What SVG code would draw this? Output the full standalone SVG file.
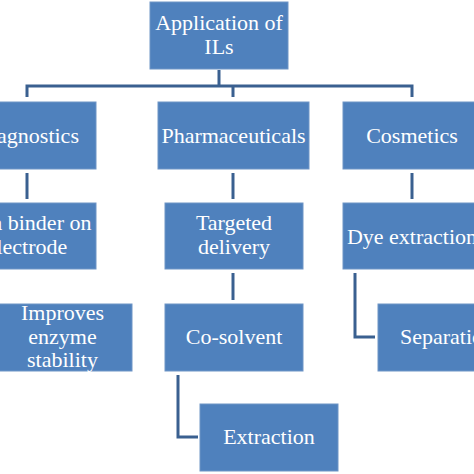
<svg xmlns="http://www.w3.org/2000/svg" width="474" height="474" viewBox="0 0 474 474">
<style>
.box{fill:#4f81bd;stroke:#6f95c6;stroke-width:1}
.t{font-family:'Liberation Serif','Times New Roman','DejaVu Serif',serif;font-size:22px;fill:#ffffff;text-anchor:middle}
.c{fill:none;stroke:#3a6090;stroke-width:3}
</style>
<rect width="474" height="474" fill="#ffffff"/>
<g id="connectors">
<path class="c" d="M219 70V86M27 97V86H412V97M233 86V97"/>
<path class="c" d="M27 173V199"/>
<path class="c" d="M233 173V199"/>
<path class="c" d="M412 173V199"/>
<path class="c" d="M233 273V300"/>
<path class="c" d="M178 375V437H198"/>
<path class="c" d="M355 273V337H375"/>
</g>
<g id="root">
<rect class="box" x="150" y="2" width="138" height="67"/>
<text class="t" x="219" y="30" font-family="Liberation Serif">Application of</text>
<text class="t" x="219" y="54" font-family="Liberation Serif">ILs</text>
</g>
<g id="diagnostics">
<rect class="box" x="-42" y="102" width="138" height="67"/>
<text class="t" x="27" y="143" font-family="Liberation Serif">Diagnostics</text>
</g>
<g id="pharmaceuticals">
<rect class="box" x="158" y="102" width="151" height="67"/>
<text class="t" x="233.5" y="143" font-family="Liberation Serif">Pharmaceuticals</text>
</g>
<g id="cosmetics">
<rect class="box" x="343" y="102" width="138" height="67"/>
<text class="t" x="412" y="143" font-family="Liberation Serif">Cosmetics</text>
</g>
<g id="binder">
<rect class="box" x="-42" y="203" width="138" height="66"/>
<text class="t" x="27" y="230" font-family="Liberation Serif">As a binder on</text>
<text class="t" x="27" y="254" font-family="Liberation Serif">electrode</text>
</g>
<g id="targeted">
<rect class="box" x="165" y="203" width="138" height="66"/>
<text class="t" x="234" y="230" font-family="Liberation Serif">Targeted</text>
<text class="t" x="234" y="254" font-family="Liberation Serif">delivery</text>
</g>
<g id="dye">
<rect class="box" x="343" y="203" width="138" height="66"/>
<text class="t" x="412" y="244" font-family="Liberation Serif">Dye extraction</text>
</g>
<g id="improves">
<rect class="box" x="-7" y="304" width="139" height="67"/>
<text class="t" x="62.5" y="320" font-family="Liberation Serif">Improves</text>
<text class="t" x="62.5" y="344" font-family="Liberation Serif">enzyme</text>
<text class="t" x="62.5" y="367" font-family="Liberation Serif">stability</text>
</g>
<g id="cosolvent">
<rect class="box" x="165" y="304" width="138" height="67"/>
<text class="t" x="234" y="344" font-family="Liberation Serif">Co-solvent</text>
</g>
<g id="separation">
<rect class="box" x="378" y="304" width="138" height="67"/>
<text class="t" x="447" y="344" font-family="Liberation Serif">Separation</text>
</g>
<g id="extraction">
<rect class="box" x="200" y="404" width="138" height="67"/>
<text class="t" x="269" y="444" font-family="Liberation Serif">Extraction</text>
</g>
</svg>
